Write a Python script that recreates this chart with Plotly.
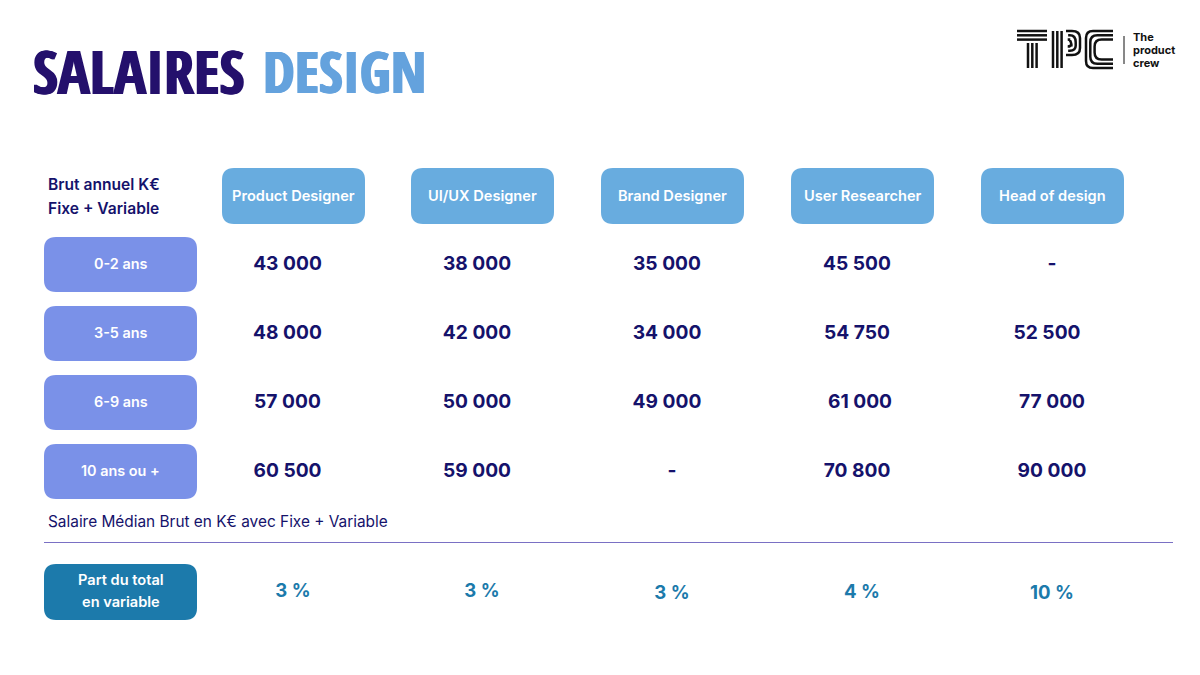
#!/usr/bin/python3
import plotly.graph_objects as go

# Table contents
jobs = ['Product Designer', 'UI/UX Designer', 'Brand Designer', 'User Researcher', 'Head of design']
levels = ['0-2 ans', '3-5 ans', '6-9 ans', '10 ans ou +']
salaries_0_2 = ['43 000', '38 000', '35 000', '45 500', '-']
salaries_3_5 = ['48 000', '42 000', '34 000', '54 750', '52 500']
salaries_6_9 = ['57 000', '50 000', '49 000', '61 000', '77 000']
salaries_10 = ['60 500', '59 000', '-', '70 800', '90 000']
variable_share = ['3 %', '3 %', '3 %', '4 %', '10 %']
logo_words = ['The', 'product', 'crew']

# Layout of the slide, in pixels
job_left = [222, 411, 601, 791, 981]
box_w = 143
level_top = [237, 306, 375, 444]
cell_x = [
    [287.5, 477, 667, 857, 1052],
    [287.5, 477, 667, 857, 1047],
    [287.5, 477, 667, 860, 1052],
    [287.5, 477, 672, 857, 1052],
]
cell_y = [265, 334, 403, 472]
share_x = [293, 482, 672, 862, 1052]
share_y = [592, 592, 594, 593, 594]
logo_y = [38, 51, 64]

NAVY = '#15126b'
SKY = '#68acdf'
PERIWINKLE = '#7a91e8'
TEAL = '#1c7aab'
FONT = 'Inter'
TITLE_FONT = 'Open Sans Condensed'


def rounded(x0, y0, x1, y1, r=12):
    return (f'M {x0+r} {y0} L {x1-r} {y0} Q {x1} {y0} {x1} {y0+r} L {x1} {y1-r} Q {x1} {y1} {x1-r} {y1} '
            f'L {x0+r} {y1} Q {x0} {y1} {x0} {y1-r} L {x0} {y0+r} Q {x0} {y0} {x0+r} {y0} Z')


def box(x0, y0, x1, y1, color):
    return dict(type='path', path=rounded(x0, y0, x1, y1), fillcolor=color, line_width=0, layer='below')


def stripe(path):
    return dict(type='path', path=path, line=dict(color='#111111', width=2.5), layer='above')


def label(x, y, text, size=14.6, color='white', weight=600, anchor='center', family=FONT, shadow=None):
    font = dict(family=family, size=size, color=color, weight=weight)
    if shadow:
        font['shadow'] = shadow
    return dict(x=x, y=y, text=text, showarrow=False, xanchor=anchor, yanchor='middle', align='center', font=font)


shapes = []
annotations = []

for left, job in zip(job_left, jobs):
    shapes.append(box(left, 168, left + box_w, 224, SKY))
    annotations.append(label(left + box_w / 2, 196, job))

for top, level in zip(level_top, levels):
    shapes.append(box(44, top, 197, top + 55, PERIWINKLE))
    annotations.append(label(120.5, top + 26, level, size=14.4))

shapes.append(box(44, 564, 197, 620, TEAL))
annotations.append(label(120.5, 580, 'Part du total', size=14.6))
annotations.append(label(120.5, 602, 'en variable', size=14.6))

shapes.append(dict(type='line', x0=44, x1=1173, y0=542.5, y1=542.5, line=dict(color='#7a70c4', width=1)))

annotations.append(label(46, 184.5, 'Brut annuel K€', size=15.6, color=NAVY, anchor='left'))
annotations.append(label(46, 208, 'Fixe + Variable', size=15.6, color=NAVY, anchor='left'))
annotations.append(label(46, 521, 'Salaire Médian Brut en K€ avec Fixe + Variable', size=15.4, color=NAVY, weight=400, anchor='left'))

# Title
annotations.append(label(31, 71, 'SALAIRES', size=60, color='#24106c', weight=800, anchor='left', family=TITLE_FONT,
                         shadow='1px 0 0 #24106c, -1px 0 0 #24106c'))
annotations.append(label(261, 71, 'DESIGN', size=57, color='#64a2dd', weight=800, anchor='left', family=TITLE_FONT,
                         shadow='1px 0 0 #64a2dd, -1px 0 0 #64a2dd'))

# TPC logo
for i, off in enumerate([0, 4.3, 8.6]):
    shapes.append(stripe(f'M 1017 {31 + off} L 1047 {31 + off}'))
    shapes.append(stripe(f'M {1028 + off} {31 + 12} L {1028 + off} 68'))
    shapes.append(stripe(f'M {1053 + off} 31 L {1053 + off} 68'))
    shapes.append(stripe(f'M {1066 + off / 2} {31 + off} L {1072 - off / 2} {31 + off} '
                         f'Q {1080 - off} {31 + off} {1080 - off} {38 + off} L {1080 - off} {48 - off / 2} '
                         f'Q {1080 - off} {55 - off} {1072 - off / 2} {55 - off} L {1066 + off / 2} {55 - off}'))
    shapes.append(stripe(f'M 1113 {31 + off} L {1093 + off} {31 + off} Q {1086 + off} {31 + off} {1086 + off} {38 + off} '
                         f'L {1086 + off} {61 - off} Q {1086 + off} {68 - off} {1093 + off} {68 - off} L 1113 {68 - off}'))
shapes.append(dict(type='line', x0=1124, x1=1124, y0=36, y1=64, line=dict(color='#111111', width=1)))

fig = go.Figure()

rows = [salaries_0_2, salaries_3_5, salaries_6_9, salaries_10]
for values, xs, y in zip(rows, cell_x, cell_y):
    fig.add_trace(go.Scatter(x=xs, y=[y] * len(xs), text=values, mode='text', textposition='middle center',
                             textfont=dict(family=FONT, size=19.2, color=NAVY, weight=650), hoverinfo='skip'))

fig.add_trace(go.Scatter(x=share_x, y=share_y, text=variable_share, mode='text', textposition='middle center',
                         textfont=dict(family=FONT, size=18.6, color=TEAL, weight=700), hoverinfo='skip'))

fig.add_trace(go.Scatter(x=[1133] * 3, y=logo_y, text=logo_words, mode='text', textposition='middle right',
                         textfont=dict(family=FONT, size=11, color='#111111', weight=700), hoverinfo='skip'))

# the page keeps an 8 px body margin, so the plot area starts at pixel 8
fig.update_layout(width=1184, height=659, margin=dict(l=0, r=0, t=0, b=0), showlegend=False,
                  paper_bgcolor='white', plot_bgcolor='white', shapes=shapes, annotations=annotations,
                  xaxis=dict(range=[8, 1192], visible=False), yaxis=dict(range=[667, 8], visible=False))
fig.write_html('out.html')
